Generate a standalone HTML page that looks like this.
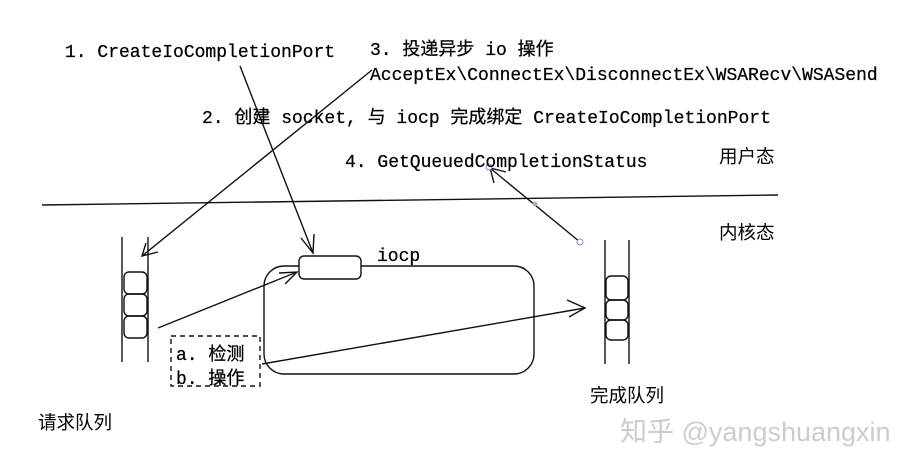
<!DOCTYPE html>
<html><head><style>
body{margin:0;background:#fff;width:923px;height:471px;overflow:hidden}
svg text{font-family:"Liberation Mono","Noto Sans CJK SC",monospace;font-size:18px;fill:#000;stroke:#000;stroke-width:0.25}
.c{font-family:"Liberation Sans","Noto Sans CJK SC",sans-serif;font-size:18.5px;stroke-width:0}
</style></head><body>
<svg width="923" height="471" viewBox="0 0 923 471" xmlns="http://www.w3.org/2000/svg">
<g stroke="#111" stroke-width="1.4" fill="none">
<line x1="42" y1="205" x2="778" y2="195"/>
<line x1="122" y1="237" x2="122" y2="362"/><line x1="148" y1="237" x2="148" y2="362"/>
<rect x="124" y="272" width="23" height="22" rx="5"/><rect x="124" y="294" width="23" height="22" rx="5"/><rect x="124" y="316" width="23" height="22" rx="5"/>
<line x1="605" y1="240" x2="605" y2="364"/><line x1="629" y1="240" x2="629" y2="364"/>
<rect x="606" y="276" width="22" height="24" rx="5"/><rect x="606" y="300" width="22" height="20" rx="5"/><rect x="606" y="320" width="22" height="20" rx="5"/>
<rect x="264" y="266" width="270" height="108" rx="20"/>
<rect x="299" y="256" width="62" height="23" rx="5" fill="#fff"/>
<rect x="171" y="336" width="89" height="50" stroke-dasharray="5,4"/>
<line x1="240" y1="66" x2="313" y2="253"/><polyline points="301,238 313,253 314,234"/>
<line x1="372" y1="70" x2="142" y2="256"/><polyline points="146,243 142,256 158,252"/>
<line x1="158" y1="328" x2="297" y2="272"/><polyline points="279,273 297,272 285,284"/>
<line x1="262" y1="364" x2="585" y2="308"/><polyline points="567,300 585,308 569,317"/>
<line x1="580" y1="242" x2="490" y2="168"/><polyline points="494,183 490,168 506,172"/>
</g>
<circle cx="580" cy="242" r="3" fill="#fff" stroke="#88c" stroke-width="1"/>
<circle cx="489" cy="167" r="3" fill="#fff" stroke="#88c" stroke-width="1"/>
<circle cx="535" cy="204" r="2.5" fill="#aac"/>
<text x="65" y="57">1. CreateIoCompletionPort</text>
<text x="370" y="55">3. 投递异步 io 操作</text>
<text x="370" y="80">AcceptEx\ConnectEx\DisconnectEx\WSARecv\WSASend</text>
<text x="202" y="123">2. 创建 socket, 与 iocp 完成绑定 CreateIoCompletionPort</text>
<text x="345" y="167">4. GetQueuedCompletionStatus</text>
<text x="377" y="261">iocp</text>
<text x="176" y="360">a. 检测</text>
<text x="176" y="384">b. 操作</text>
<text class="c" x="719" y="163">用户态</text>
<text class="c" x="719" y="239">内核态</text>
<text class="c" x="38" y="429">请求队列</text>
<text class="c" x="590" y="402">完成队列</text>
<text class="c" x="620" y="441" style="fill:#ccc;font-size:27px">知乎 @yangshuangxin</text>
</svg>
</body></html>
